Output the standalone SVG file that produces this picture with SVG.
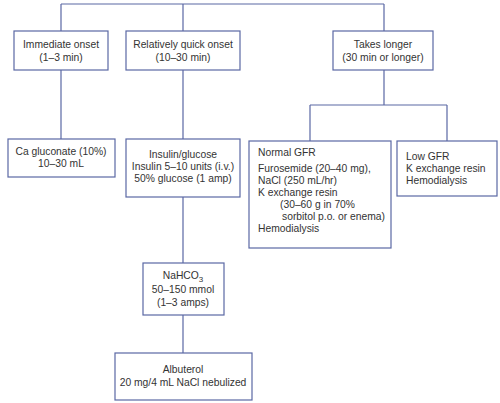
<svg xmlns="http://www.w3.org/2000/svg" width="500" height="403" viewBox="0 0 500 403">
<style>
.box{fill:#fff;stroke:#5a68a4;stroke-width:1.2}
.ln{fill:none;stroke:#5a68a4;stroke-width:1.2}
text{font-family:"Liberation Sans",Arial,sans-serif;font-size:10.3px;fill:#333}
.c{text-anchor:middle}
</style>
<rect width="500" height="403" fill="#fff"/>
<g id="connectors">
<path class="ln" d="M61,4 H384 M61,4 V31 M183,4 V31 M384,4 V31"/>
<path class="ln" d="M61,70 V139"/>
<path class="ln" d="M183,70 V139 M183,197 V263 M183,315 V353"/>
<path class="ln" d="M384,70 V105 M310,105 H447 M310,105 V141 M447,105 V141"/>
</g>
<g id="immediate">
<rect class="box" x="14" y="31" width="94" height="39"/>
<text class="c" x="61" y="48">Immediate onset</text>
<text class="c" x="61" y="61">(1–3 min)</text>
</g>
<g id="quick">
<rect class="box" x="126" y="31" width="114" height="39"/>
<text class="c" x="183" y="48">Relatively quick onset</text>
<text class="c" x="183" y="61">(10–30 min)</text>
</g>
<g id="longer">
<rect class="box" x="333" y="31" width="100" height="39"/>
<text class="c" x="383" y="48">Takes longer</text>
<text class="c" x="383" y="61">(30 min or longer)</text>
</g>
<g id="ca">
<rect class="box" x="8" y="139" width="107" height="38"/>
<text class="c" x="61" y="155">Ca gluconate (10%)</text>
<text class="c" x="61" y="167">10–30 mL</text>
</g>
<g id="insulin">
<rect class="box" x="126" y="139" width="114" height="58"/>
<text class="c" x="183" y="158">Insulin/glucose</text>
<text class="c" x="183" y="170">Insulin 5–10 units (i.v.)</text>
<text class="c" x="183" y="182">50% glucose (1 amp)</text>
</g>
<g id="normal">
<rect class="box" x="249" y="141" width="142" height="107"/>
<text x="258" y="156">Normal GFR</text>
<text x="258" y="172">Furosemide (20–40 mg),</text>
<text x="258" y="184">NaCl (250 mL/hr)</text>
<text x="258" y="196">K exchange resin</text>
<text x="280" y="208">(30–60 g in 70%</text>
<text x="282" y="220">sorbitol p.o. or enema)</text>
<text x="258" y="232">Hemodialysis</text>
</g>
<g id="low">
<rect class="box" x="397" y="141" width="100" height="55"/>
<text x="406" y="160">Low GFR</text>
<text x="406" y="172">K exchange resin</text>
<text x="406" y="184">Hemodialysis</text>
</g>
<g id="nahco3">
<rect class="box" x="143" y="263" width="81" height="52"/>
<text class="c" x="183" y="279">NaHCO<tspan font-size="8" dy="3">3</tspan></text>
<text class="c" x="183" y="293">50–150 mmol</text>
<text class="c" x="183" y="306">(1–3 amps)</text>
</g>
<g id="albuterol">
<rect class="box" x="115" y="353" width="137" height="47"/>
<text class="c" x="183" y="373">Albuterol</text>
<text class="c" x="183" y="386">20 mg/4 mL NaCl nebulized</text>
</g>
</svg>
